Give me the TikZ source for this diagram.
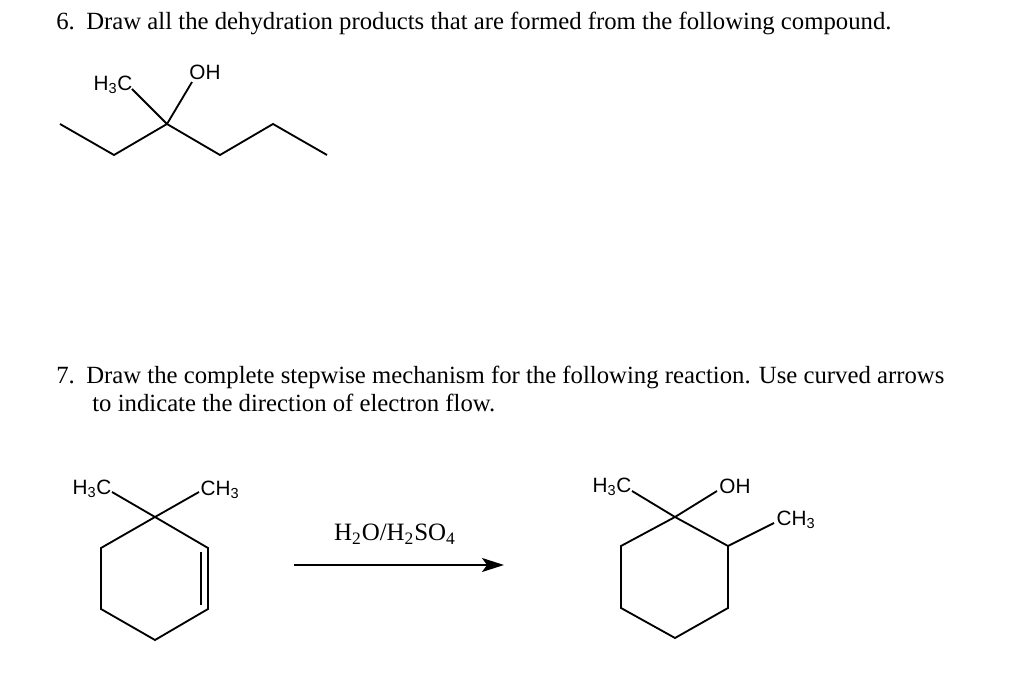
\documentclass[tikz,border=0pt]{standalone}
\usepackage{fontspec}
\setmainfont{Liberation Serif}
\newfontfamily\chemfont{Liberation Sans}
\usetikzlibrary{arrows.meta}
\tikzset{
	question/.style={anchor=base west, inner sep=0, font=\fontsize{14.08}{16}\selectfont},
	atom/.style={inner sep=0, font=\chemfont\fontsize{11.8}{14}\selectfont},
	reagent/.style={inner sep=0, font=\fontsize{14.2}{16}\selectfont},
	bond/.style={line width=1.05pt, line join=miter},
}

\begin{document}
\begin{tikzpicture}[x=.02cm, y=-.02cm]
		\useasboundingbox (0, 0) rectangle (1024, 678);

		% questions
		\node [question] (num6) at (56, 30) {6.};
		\node [question] (q6) at (86, 30) {Draw all the dehydration products that are formed from the following compound.};
		\node [question] (num7) at (56, 384) {7.};
		\node [question] (q7) at (86, 384) {Draw the complete stepwise mechanism for the following reaction. Use curved arrows};
		\node [question] (q7b) at (92, 412) {to indicate the direction of electron flow.};

		% alcohol of question 6
		\coordinate (a1) at (60, 124);
		\coordinate (a2) at (114, 155);
		\coordinate (a3) at (167, 124);
		\coordinate (a4) at (220, 155);
		\coordinate (a5) at (273, 124);
		\coordinate (a6) at (327, 155);
		\coordinate (aMe) at (132, 89);
		\coordinate (aOH) at (192, 82);
		\draw [bond] (a1) -- (a2) -- (a3) -- (a4) -- (a5) -- (a6);
		\draw [bond] (a3) -- (aMe);
		\draw [bond] (a3) -- (aOH);
		\node [atom] (aMeText) at (113, 85) {H\textsubscript{3}C};
		\node [atom] (aOHText) at (205, 72) {OH};

		% alkene
		\coordinate (b1) at (155, 517);
		\coordinate (b2) at (208, 548);
		\coordinate (b3) at (208, 609);
		\coordinate (b4) at (155, 640);
		\coordinate (b5) at (101, 609);
		\coordinate (b6) at (101, 548);
		\coordinate (bIn2) at (201, 552);
		\coordinate (bIn3) at (201, 605);
		\coordinate (bMeL) at (112, 492);
		\coordinate (bMeR) at (199, 492);
		\draw [bond] (b1) -- (b2) -- (b3) -- (b4) -- (b5) -- (b6) -- cycle;
		\draw [bond] (bIn2) -- (bIn3);
		\draw [bond] (b1) -- (bMeL);
		\draw [bond] (b1) -- (bMeR);
		\node [atom] (bMeLText) at (92, 489) {H\textsubscript{3}C};
		\node [atom] (bMeRText) at (220, 490) {CH\textsubscript{3}};

		% reaction arrow
		\coordinate (arrowStart) at (294, 565);
		\coordinate (arrowEnd) at (504, 565);
		\draw [bond, -{Stealth[length=.44cm, width=.28cm, inset=.1cm]}] (arrowStart) -- (arrowEnd);
		\node [reagent] (reagentText) at (395, 534) {H\textsubscript{2}O/H\textsubscript{2}SO\textsubscript{4}};

		% product
		\coordinate (c1) at (675, 517);
		\coordinate (c2) at (728, 546);
		\coordinate (c3) at (728, 608);
		\coordinate (c4) at (675, 638);
		\coordinate (c5) at (621, 608);
		\coordinate (c6) at (621, 546);
		\coordinate (cMeL) at (632, 491);
		\coordinate (cOH) at (717, 491);
		\coordinate (cMeR) at (774, 523);
		\draw [bond] (c1) -- (c2) -- (c3) -- (c4) -- (c5) -- (c6) -- cycle;
		\draw [bond] (c1) -- (cMeL);
		\draw [bond] (c1) -- (cOH);
		\draw [bond] (c2) -- (cMeR);
		\node [atom] (cMeLText) at (612, 487) {H\textsubscript{3}C};
		\node [atom] (cOHText) at (735, 486) {OH};
		\node [atom] (cMeRText) at (796, 520) {CH\textsubscript{3}};
	\end{tikzpicture}
\end{document}
